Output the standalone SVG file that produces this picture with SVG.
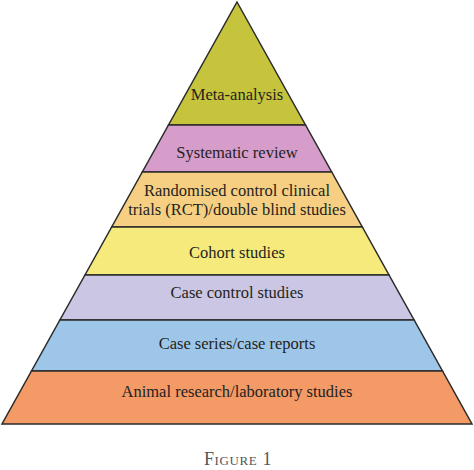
<svg xmlns="http://www.w3.org/2000/svg" width="474" height="470" viewBox="0 0 474 470">
<style>
.band{stroke:#2b2b2b;stroke-width:1.5;stroke-linejoin:miter}
.lbl{font-family:"Liberation Serif","DejaVu Serif",serif;font-size:16.5px;fill:#231f20;text-anchor:middle}
.cap{font-family:"Liberation Serif","DejaVu Serif",serif;font-size:18px;fill:#555;text-anchor:middle;font-variant:small-caps;letter-spacing:0.6px}
</style>
<rect width="474" height="470" fill="#ffffff"/>
<g id="meta"><polygon class="band" points="237,2 305.5,125 168.5,125" fill="#c6c43c"/><text class="lbl" x="237" y="100">Meta-analysis</text></g>
<g id="systematic"><polygon class="band" points="168.5,125 305.5,125 331.7,172 142.3,172" fill="#d69dcb"/><text class="lbl" x="237" y="158">Systematic review</text></g>
<g id="rct"><polygon class="band" points="142.3,172 331.7,172 362.3,227 111.7,227" fill="#f6cf82"/><text class="lbl" x="237" y="196">Randomised control clinical</text><text class="lbl" x="237" y="215">trials (RCT)/double blind studies</text></g>
<g id="cohort"><polygon class="band" points="111.7,227 362.3,227 389,275 85,275" fill="#f6ea7c"/><text class="lbl" x="237" y="258">Cohort studies</text></g>
<g id="casecontrol"><polygon class="band" points="85,275 389,275 414.1,320 59.9,320" fill="#cbc6e3"/><text class="lbl" x="237" y="298">Case control studies</text></g>
<g id="caseseries"><polygon class="band" points="59.9,320 414.1,320 442.5,371 31.5,371" fill="#9dc6e9"/><text class="lbl" x="237" y="349">Case series/case reports</text></g>
<g id="animal"><polygon class="band" points="31.5,371 442.5,371 472,424 2,424" fill="#f39a67"/><text class="lbl" x="237" y="397">Animal research/laboratory studies</text></g>
<g id="connectors"></g>
<text class="cap" x="238" y="465">Figure 1</text>
</svg>
